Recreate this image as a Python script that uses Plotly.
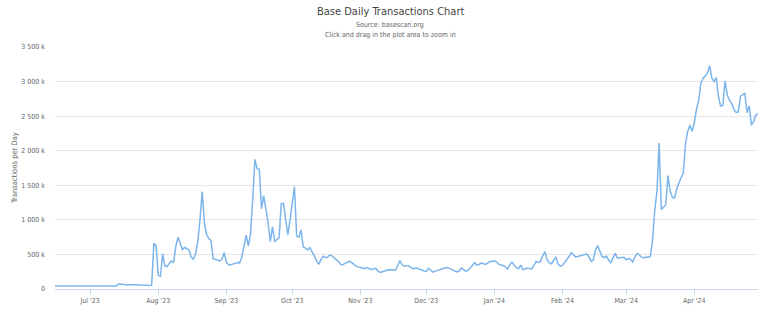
import pandas as pd
import plotly.graph_objects as go

# ---------------- data (daily transactions, thousands) ----------------
start_date = "2023-06-15"

jun_2023 = [45, 44, 45, 45, 44, 45, 45, 44, 45, 45, 45, 44, 45, 45, 44, 45]
jul_2023 = [45, 44, 45, 45, 44, 45, 45, 44, 45, 45, 44, 45, 45,
            75, 70, 60, 62, 58, 60, 62, 58, 60, 62, 58, 55, 54, 52, 50, 55, 660, 630]
aug_2023 = [200, 185, 510, 335, 325, 370, 405, 380, 620, 750, 670, 570, 600, 580, 565, 460,
            430, 510, 690, 1000, 1410, 960, 790, 730, 700, 440, 425, 410, 405, 430, 528]
sep_2023 = [385, 350, 350, 355, 370, 384, 376, 450, 600, 780, 620, 800, 1300, 1875, 1740,
            1730, 1160, 1350, 1150, 960, 690, 900, 690, 710, 740, 1235, 1240, 1000, 785, 1000]
oct_2023 = [1250, 1480, 765, 750, 855, 610, 590, 565, 600, 540, 470, 400, 355, 420, 475, 460,
            455, 490, 480, 450, 420, 400, 355, 350, 370, 385, 400, 385, 350, 330, 320]
nov_2023 = [310, 295, 295, 310, 300, 279, 295, 300, 260, 240, 250, 264, 270, 279, 275, 270,
            275, 340, 410, 350, 330, 335, 335, 310, 293, 300, 303, 285, 269, 260]
dec_2023 = [254, 300, 275, 245, 255, 268, 280, 289, 300, 312, 305, 292, 282, 265, 248, 260,
            303, 280, 258, 270, 300, 340, 384, 345, 355, 376, 366, 355, 375, 399, 400]
jan_2024 = [409, 390, 360, 348, 340, 320, 285, 350, 388, 345, 310, 295, 345, 279, 295, 303,
            295, 290, 340, 398, 385, 400, 480, 540, 420, 380, 366, 420, 465, 360, 330]
feb_2024 = [341, 380, 430, 470, 525, 500, 465, 470, 480, 488, 495, 506, 470, 400, 420, 560,
            628, 545, 470, 455, 475, 415, 380, 450, 515, 445, 450, 465, 460]
mar_2024 = [423, 440, 430, 390, 470, 515, 495, 460, 450, 462, 460, 470, 700, 1146, 1400, 2110,
            1150, 1190, 1218, 1640, 1420, 1330, 1315, 1450, 1540, 1610, 1680, 2100, 2280, 2370, 2280]
apr_2024 = [2400, 2600, 2730, 2980, 3050, 3080, 3120, 3230, 3050, 3000, 3058, 2784, 2645, 2654,
            3011, 2810, 2730, 2690, 2600, 2555, 2560, 2784, 2810, 2833, 2550, 2650, 2370, 2420,
            2520, 2530]

tx_k = (jun_2023 + jul_2023 + aug_2023 + sep_2023 + oct_2023 + nov_2023 + dec_2023
        + jan_2024 + feb_2024 + mar_2024 + apr_2024)
dates = pd.date_range(start_date, periods=len(tx_k), freq="D")

y_tick_vals = [0, 500, 1000, 1500, 2000, 2500, 3000, 3500]
y_tick_text = ["0", "500 k", "1 000 k", "1 500 k", "2 000 k", "2 500 k", "3 000 k", "3 500 k"]
x_tick_dates = ["2023-07-01", "2023-08-01", "2023-09-01", "2023-10-01", "2023-11-01",
                "2023-12-01", "2024-01-01", "2024-02-01", "2024-03-01", "2024-04-01"]
x_tick_text = ["Jul '23", "Aug '23", "Sep '23", "Oct '23", "Nov '23",
               "Dec '23", "Jan '24", "Feb '24", "Mar '24", "Apr '24"]

title_text = "Base Daily Transactions Chart"
subtitle_lines = ["Source: basescan.org", "Click and drag in the plot area to zoom in"]
y_title = "Transactions per Day"

# ---------------- figure ----------------
FONT = "DejaVu Sans Condensed, Liberation Sans Narrow, Arial Narrow, sans-serif"
W, H = 768, 321
ML, MR, MT, MB = 55, 10, 47, 32
PW, PH = W - ML - MR, H - MT - MB

fig = go.Figure()
fig.add_trace(go.Scatter(
    x=dates, y=tx_k, mode="lines",
    line=dict(color="#7cb5ec", width=1.5),
    hoverinfo="x+y", showlegend=False,
))

def px_x(px):
    return (px - ML) / PW

def px_y(py):
    return (H - MB - py) / PH

annotations = [
    dict(text=title_text, xref="paper", yref="paper", x=px_x(390), y=px_y(11),
         xanchor="center", yanchor="middle", showarrow=False,
         font=dict(family=FONT, size=11, color="#444444")),
    dict(text=subtitle_lines[0], xref="paper", yref="paper", x=px_x(390), y=px_y(25),
         xanchor="center", yanchor="middle", showarrow=False,
         font=dict(family=FONT, size=7, color="#666666")),
    dict(text=subtitle_lines[1], xref="paper", yref="paper", x=px_x(390), y=px_y(35),
         xanchor="center", yanchor="middle", showarrow=False,
         font=dict(family=FONT, size=7, color="#666666")),
    dict(text=y_title, xref="paper", yref="paper", x=px_x(14), y=0.5,
         xanchor="center", yanchor="middle", showarrow=False, textangle=-90,
         font=dict(family=FONT, size=7.5, color="#666666")),
]

fig.update_layout(
    width=W, height=H,
    margin=dict(l=ML, r=MR, t=MT, b=MB, pad=0),
    paper_bgcolor="#ffffff", plot_bgcolor="#ffffff",
    font=dict(family=FONT, size=7, color="#666666"),
    annotations=annotations,
    showlegend=False,
)
fig.update_xaxes(
    type="date", range=[dates[0], dates[-1]],
    tickvals=x_tick_dates, ticktext=x_tick_text,
    showgrid=False, zeroline=False,
    showline=True, linecolor="#ccd6eb", linewidth=1,
    ticks="outside", ticklen=5, tickcolor="#ccd6eb", tickwidth=1,
    tickfont=dict(family=FONT, size=7, color="#666666"),
    fixedrange=True,
)
fig.update_yaxes(
    range=[0, 3500], tickvals=y_tick_vals, ticktext=y_tick_text,
    showgrid=True, gridcolor="#e6e6e6", gridwidth=1,
    zeroline=False, showline=False, ticks="",
    ticklabelstandoff=9,
    tickfont=dict(family=FONT, size=7, color="#666666"),
    fixedrange=True,
)

fig.write_html("out.html", config={"displayModeBar": False})
